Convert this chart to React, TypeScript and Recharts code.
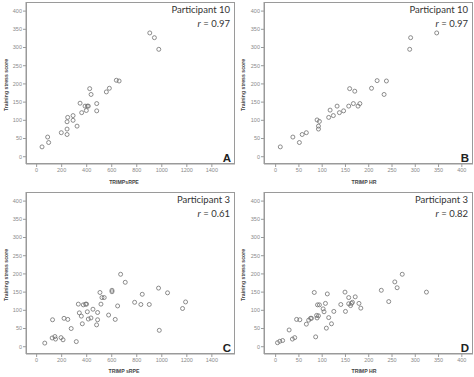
import React from 'react';
import { ScatterChart, Scatter, XAxis, YAxis } from 'recharts';

// Panel A: participant 10, TRIMP sRPE vs TSS
const aTrimp = [43, 88, 96, 197, 243, 243, 243, 248, 291, 291, 323, 347, 360, 387, 397, 405, 413, 424, 435, 480, 480, 557, 581, 637, 659, 904, 941, 976];
const aTss = [27, 54, 39, 66, 61, 76, 96, 108, 100, 113, 84, 147, 121, 139, 127, 139, 139, 187, 171, 146, 126, 178, 188, 210, 208, 340, 327, 295];

// Panel B: participant 10, TRIMP HR vs TSS
const bTrimp = [10, 37, 51, 57, 66, 89, 92, 92, 94, 114, 117, 124, 132, 137, 146, 157, 159, 167, 170, 177, 181, 206, 218, 233, 238, 288, 290, 346];
const bTss = [27, 54, 39, 61, 66, 101, 76, 84, 97, 108, 128, 113, 139, 121, 126, 139, 187, 146, 180, 139, 146, 188, 209, 171, 208, 295, 327, 340];

// Panel C: participant 3, TRIMP sRPE vs TSS
const cTrimp = [65, 127, 124, 146, 151, 195, 211, 219, 249, 276, 317, 333, 341, 357, 365, 373, 391, 399, 405, 413, 434, 450, 479, 487, 487, 506, 514, 522, 540, 575, 602, 602, 628, 647, 671, 708, 783, 833, 844, 900, 974, 980, 1046, 1166, 1190];
const cTss = [10, 74, 24, 28, 21, 25, 19, 78, 75, 50, 14, 117, 93, 84, 63, 115, 117, 117, 96, 76, 79, 103, 60, 94, 74, 149, 117, 135, 135, 87, 151, 155, 75, 112, 199, 177, 122, 116, 144, 116, 161, 45, 148, 105, 123];

// Panel D: participant 3, TRIMP HR vs TSS
const dTrimp = [4, 9, 15, 29, 36, 41, 45, 52, 66, 71, 75, 77, 83, 86, 88, 89, 90, 94, 92, 102, 104, 107, 109, 111, 114, 120, 125, 140, 149, 150, 157, 157, 161, 163, 165, 171, 179, 183, 227, 243, 256, 261, 272, 324];
const dTss = [11, 15, 17, 46, 21, 25, 75, 74, 62, 73, 78, 78, 149, 27, 86, 79, 115, 115, 85, 104, 96, 119, 51, 145, 80, 63, 97, 116, 150, 97, 135, 118, 113, 119, 122, 137, 119, 106, 155, 124, 178, 162, 199, 150];

const yTicks = [0, 50, 100, 150, 200, 250, 300, 350, 400];
const srpeTicks = [0, 200, 400, 600, 800, 1000, 1200, 1400];
const hrTicks = [0, 50, 100, 150, 200, 250, 300, 350, 400];

const zip = (xs: number[], ys: number[]) => xs.map((x, i) => ({ x, y: ys[i] }));

const panels = [
  { letter: 'A', left: 0, top: 0, height: 188, mTop: 2, mRight: 2, yW: 26, xH: 24, xDomain: [-85, 1585], xTicks: srpeTicks, xLabel: 'TRIMPsRPE', labelX: 124, who: 'Participant 10', r: '0.97', data: zip(aTrimp, aTss) },
  { letter: 'B', left: 237, top: 0, height: 188, mTop: 2, mRight: 1, yW: 27, xH: 24, xDomain: [-25, 424], xTicks: hrTicks, xLabel: 'TRIMP HR', labelX: 127, who: 'Participant 10', r: '0.97', data: zip(bTrimp, bTss) },
  { letter: 'C', left: 0, top: 188, height: 189, mTop: 4, mRight: 2, yW: 26, xH: 23, xDomain: [-85, 1585], xTicks: srpeTicks, xLabel: 'TRIMP sRPE', labelX: 124, who: 'Participant 3', r: '0.61', data: zip(cTrimp, cTss) },
  { letter: 'D', left: 237, top: 188, height: 189, mTop: 4, mRight: 1, yW: 27, xH: 23, xDomain: [-25, 424], xTicks: hrTicks, xLabel: 'TRIMP HR', labelX: 127, who: 'Participant 3', r: '0.82', data: zip(dTrimp, dTss) },
];

const W = 237;
const frame = '#9a9a9a';
const tickStyle = { fontSize: 5.5, fill: '#8a8a8a', fontFamily: 'Liberation Sans, Arial, sans-serif' };

const Dot = (props: any) => {
  const { cx, cy } = props;
  if (cx == null || cy == null) return null;
  return <circle cx={cx} cy={cy} r={2} fill="none" stroke="#707070" strokeWidth={0.8} />;
};

function Panel({ p }: { p: (typeof panels)[number] }) {
  const plotL = p.yW;
  const plotR = W - p.mRight;
  const plotT = p.mTop;
  const plotB = p.height - p.xH;
  return (
    <div style={{ position: 'absolute', left: p.left, top: p.top, width: W, height: p.height }}>
      <ScatterChart width={W} height={p.height} margin={{ top: p.mTop, right: p.mRight, bottom: 0, left: 0 }}>
        <XAxis
          type="number"
          dataKey="x"
          domain={p.xDomain}
          ticks={p.xTicks}
          height={p.xH}
          tickSize={3}
          tickMargin={1}
          tick={tickStyle}
          stroke={frame}
          interval={0}
        />
        <YAxis
          type="number"
          dataKey="y"
          domain={[-20, 425]}
          ticks={yTicks}
          width={p.yW}
          tickSize={3}
          tickMargin={1}
          tick={tickStyle}
          stroke={frame}
          interval={0}
        />
        <Scatter data={p.data} shape={Dot} isAnimationActive={false} />
      </ScatterChart>
      <svg width={W} height={p.height} style={{ position: 'absolute', left: 0, top: 0, pointerEvents: 'none' }}>
        <rect x={plotL + 0.5} y={plotT + 0.5} width={plotR - plotL - 1} height={plotB - plotT - 1} fill="none" stroke={frame} strokeWidth={1} />
        <text x={plotR - 5} y={plotT + 11} textAnchor="end" fontSize={9.5} fill="#333" fontFamily="Lato, 'Open Sans', sans-serif">
          {p.who}
        </text>
        <text x={plotR - 5} y={plotT + 25} textAnchor="end" fontSize={9.5} fill="#333" fontFamily="Lato, 'Open Sans', sans-serif">
          <tspan fontStyle="italic">r</tspan> = {p.r}
        </text>
        <text x={plotR - 4} y={plotB - 2} textAnchor="end" fontSize={11.5} fontWeight="bold" fill="#222" fontFamily="Liberation Sans, Arial, sans-serif">
          {p.letter}
        </text>
        <text x={p.labelX} y={p.height - 4} textAnchor="middle" fontSize={5.2} fontWeight="bold" fill="#444" fontFamily="Liberation Sans, Arial, sans-serif">
          {p.xLabel}
        </text>
        <text
          transform={`translate(8, ${(plotT + plotB) / 2 + 2}) rotate(-90)`}
          textAnchor="middle"
          fontSize={5.2}
          fontWeight="bold"
          fill="#444"
          fontFamily="Liberation Sans, Arial, sans-serif"
        >
          Training stress score
        </text>
      </svg>
    </div>
  );
}

export default function App() {
  return (
    <div style={{ position: 'absolute', left: 0, top: 0, width: 474, height: 377, background: '#fff', overflow: 'hidden' }}>
      {panels.map((p) => (
        <Panel key={p.letter} p={p} />
      ))}
    </div>
  );
}
